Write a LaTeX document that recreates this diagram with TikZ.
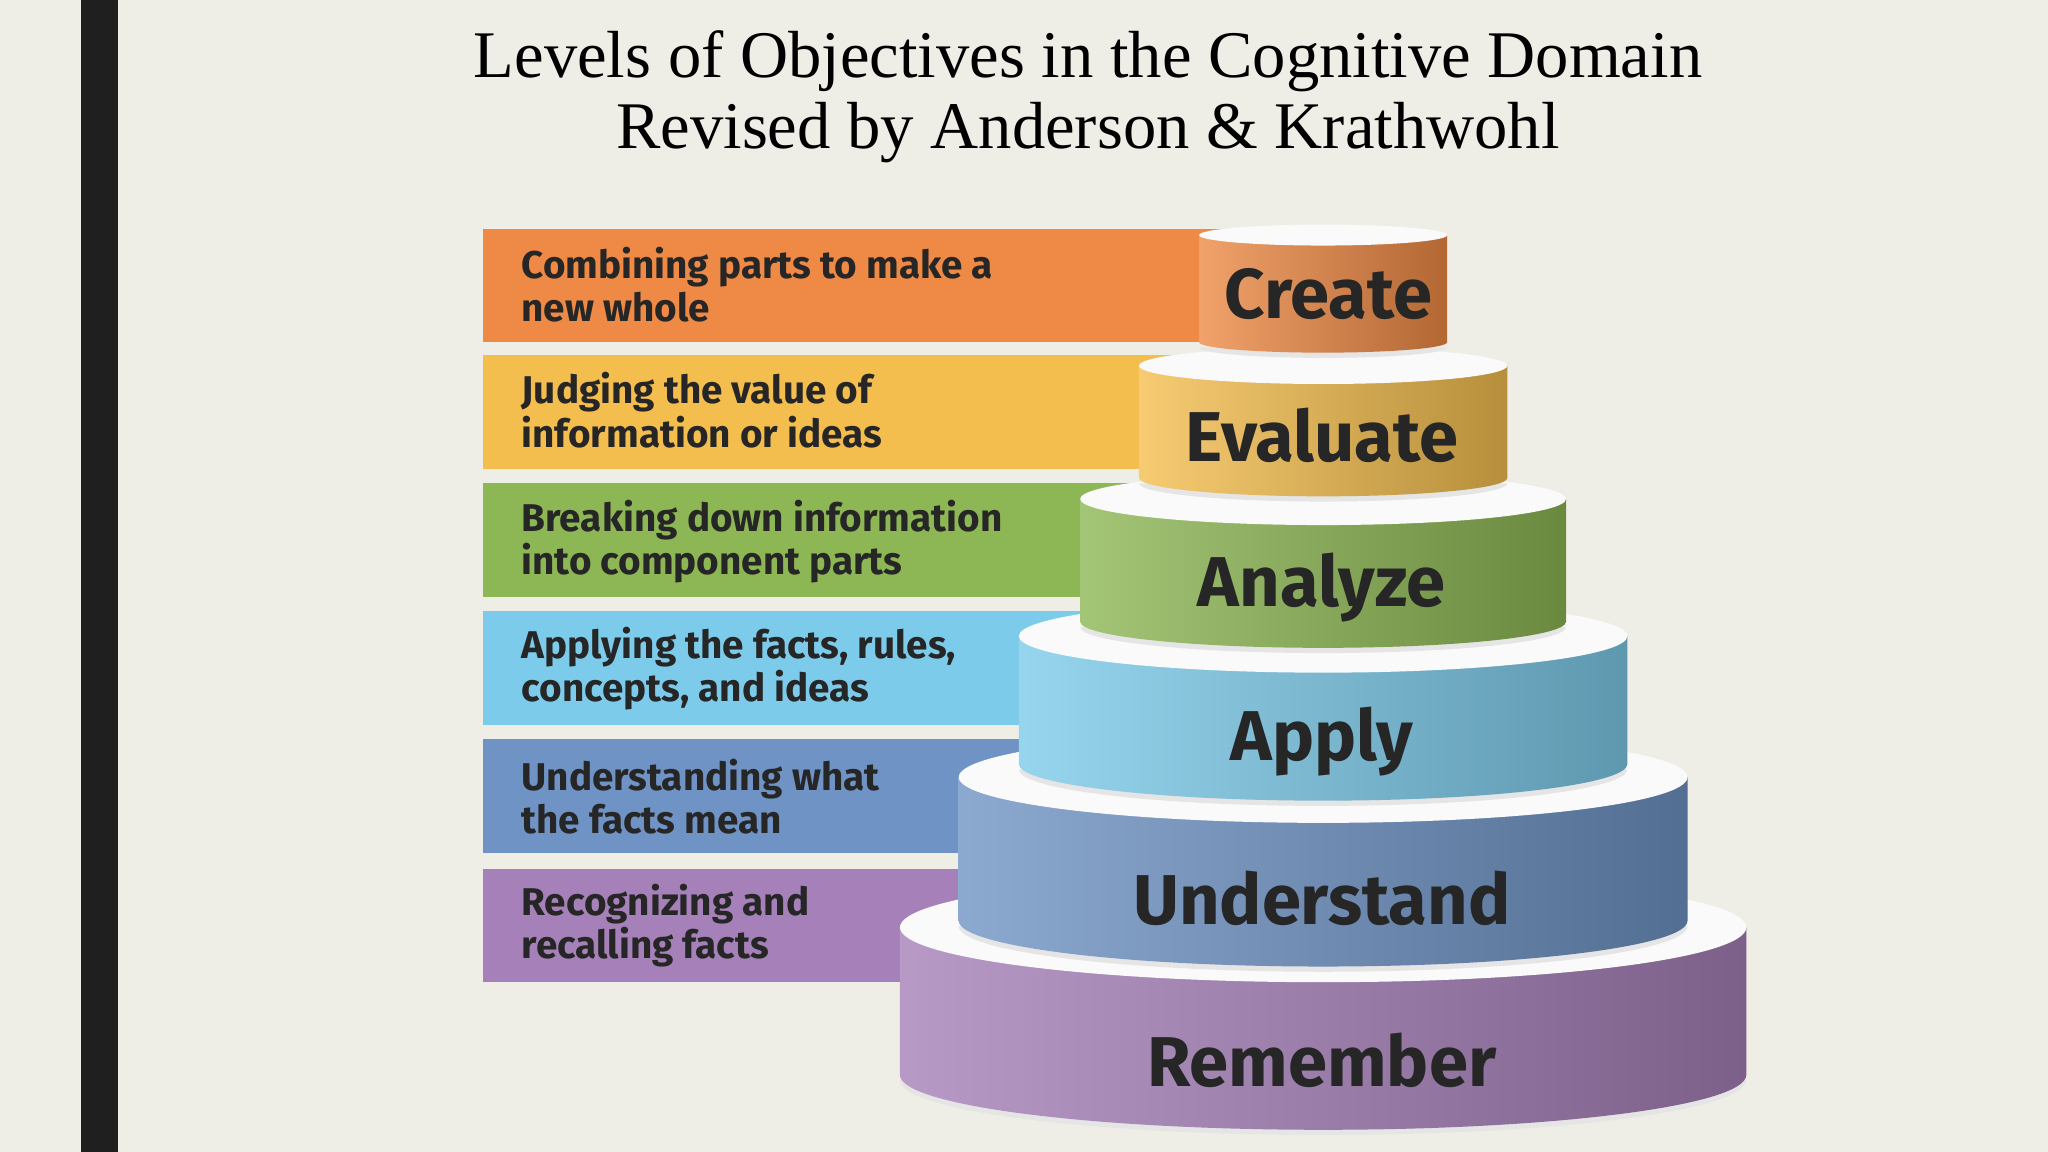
\documentclass[tikz,border=0pt]{standalone}
\usepackage{fontspec}
\setmainfont{Liberation Serif}
\newfontfamily\bandfont{Fira Sans}
\begin{document}
\begin{tikzpicture}[x=0.5pt,y=-0.5pt]
\definecolor{bg}{HTML}{EFEEE6}
\definecolor{cO}{HTML}{EE8A45}
\definecolor{cY}{HTML}{F4BE4F}
\definecolor{cG}{HTML}{8DB754}
\definecolor{cB}{HTML}{7DCBEA}
\definecolor{cU}{HTML}{6F93C4}
\definecolor{cP}{HTML}{A680B8}
\tikzset{bandtxt/.style={anchor=west,align=left,inner sep=0pt,font=\bandfont\bfseries\fontsize{14.8}{16.5}\selectfont,text=black!85},
lvl/.style={font=\bandfont\bfseries\fontsize{27}{28}\selectfont,text=black!85}}
\fill[bg] (0,0) rectangle (1568,882);
\useasboundingbox (0,0) rectangle (1568,882);
\fill[black!88] (62,0) rectangle (90,882);
\node[font=\fontsize{25.5}{27}\selectfont,align=center] (title) at (833,74) {Levels of Objectives in the Cognitive Domain\\Revised by Anderson \& Krathwohl};
% bands
\foreach \c/\t/\r in {cO/175/1,cY/272/2,cG/370/3,cB/468/4,cU/566/5,cP/665/6}
  \fill[\c] (370,\t) rectangle (1013,\t+87);
\node[bandtxt] (t1) at (399,218) {Combining parts to make a\\new whole};
\node[bandtxt] (t2) at (399,314) {Judging the value of\\information or ideas};
\node[bandtxt] (t3) at (399,415) {Breaking down information\\into component parts};
\node[bandtxt] (t4) at (399,512) {Applying the facts, rules,\\concepts, and ideas};
\node[bandtxt] (t5) at (399,610) {Understanding what\\the facts mean};
\node[bandtxt] (t6) at (399,709) {Recognizing and\\recalling facts};
% tiers bottom-up
\foreach \c/\a/\t/\b/\ry in {cP/324/710/823/42,cU/279/595/705/35,cB/233/487/585/28,cG/186/382/476/20,cY/141/280/366/14,cO/95/180/262/8}{
  \fill[black!10] (1013-\a,\b+4) -- ++(0,0) arc[start angle=180,end angle=0,x radius=\a,y radius=\ry] -- cycle;
  \shade[left color=\c!80!white,middle color=\c!60!white,right color=\c!75!black]
    (1013-\a,\t) -- (1013-\a,\b) arc[start angle=180,end angle=0,x radius=\a,y radius=\ry] -- (1013+\a,\t) -- cycle;
  \fill[white!96!gray] (1013,\t) ellipse[x radius=\a,y radius=\ry];
}
\node[lvl] (l1) at (1017,225) {Create};
\node[lvl] (l2) at (1012,333) {Evaluate};
\node[lvl] (l3) at (1012,450) {Analyze};
\node[lvl] (l4) at (1012,568) {Apply};
\node[lvl] (l5) at (1012,688) {Understand};
\node[lvl] (l6) at (1012,812) {Remember};
\end{tikzpicture}
\end{document}
